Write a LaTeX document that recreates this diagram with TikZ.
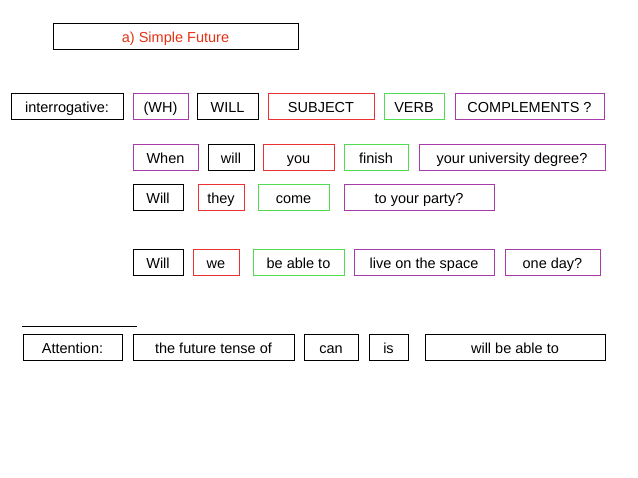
\documentclass[tikz,border=0pt]{standalone}
\usepackage{fontspec}
\setmainfont{Liberation Sans}
\definecolor{pur}{RGB}{165,60,170}
\definecolor{rd}{RGB}{235,50,50}
\definecolor{gr}{RGB}{80,220,80}
\definecolor{tred}{RGB}{230,50,20}
\begin{document}
\begin{tikzpicture}[x=1pt,y=-1pt,
  bx/.style={draw=#1,line width=0.6pt},
  bx/.default=black,
  every node/.style={font=\fontsize{14.5}{16}\selectfont,text height=10.5pt,text depth=3pt,inner sep=0pt,anchor=center,yshift=-3pt}]
\useasboundingbox (0,0) rectangle (638,478);
\draw[bx] (53,23) rectangle (298,49) node[midway,text=tred] (t) {a) Simple Future};
% row 1
\draw[bx] (11,93) rectangle (123,119) node[midway] (a1) {interrogative:};
\draw[bx=pur] (133,93) rectangle (188,119) node[midway,text=black] (a2) {(WH)};
\draw[bx] (197,93) rectangle (258,119) node[midway] (a3) {WILL};
\draw[bx=rd] (268,93) rectangle (374,119) node[midway,text=black] (a4) {SUBJECT};
\draw[bx=gr] (384,93) rectangle (444,119) node[midway,text=black] (a5) {VERB};
\draw[bx=pur] (455,93) rectangle (604,119) node[midway,text=black] (a6) {COMPLEMENTS ?};
% row 2
\draw[bx=pur] (133,144) rectangle (198,170) node[midway,text=black] (b1) {When};
\draw[bx] (208,144) rectangle (254,170) node[midway] (b2) {will};
\draw[bx=rd] (263,144) rectangle (334,170) node[midway,text=black] (b3) {you};
\draw[bx=gr] (344,144) rectangle (408,170) node[midway,text=black] (b4) {finish};
\draw[bx=pur] (419,144) rectangle (605,170) node[midway,text=black] (b5) {your university degree?};
% row 3
\draw[bx] (133,184) rectangle (183,210) node[midway] (c1) {Will};
\draw[bx=rd] (198,184) rectangle (244,210) node[midway,text=black] (c2) {they};
\draw[bx=gr] (258,184) rectangle (329,210) node[midway,text=black] (c3) {come};
\draw[bx=pur] (344,184) rectangle (494,210) node[midway,text=black] (c4) {to your party?};
% row 4
\draw[bx] (133,249) rectangle (183,275) node[midway] (d1) {Will};
\draw[bx=rd] (193,249) rectangle (239,275) node[midway,text=black] (d2) {we};
\draw[bx=gr] (253,249) rectangle (344,275) node[midway,text=black] (d3) {be able to};
\draw[bx=pur] (354,249) rectangle (494,275) node[midway,text=black] (d4) {live on the space};
\draw[bx=pur] (505,249) rectangle (600,275) node[midway,text=black] (d5) {one day?};
% line
\coordinate (l1) at (22,323); \coordinate (l2) at (137,323);
\draw[line width=0.6pt] (l1) -- (l2);
% row 5
\draw[bx] (23,334) rectangle (122,360) node[midway] (e1) {Attention:};
\draw[bx] (133,334) rectangle (294,360) node[midway] (e2) {the future tense of};
\draw[bx] (304,334) rectangle (358,360) node[midway] (e3) {can};
\draw[bx] (369,334) rectangle (408,360) node[midway] (e4) {is};
\draw[bx] (425,334) rectangle (605,360) node[midway] (e5) {will be able to};
\end{tikzpicture}
\end{document}
